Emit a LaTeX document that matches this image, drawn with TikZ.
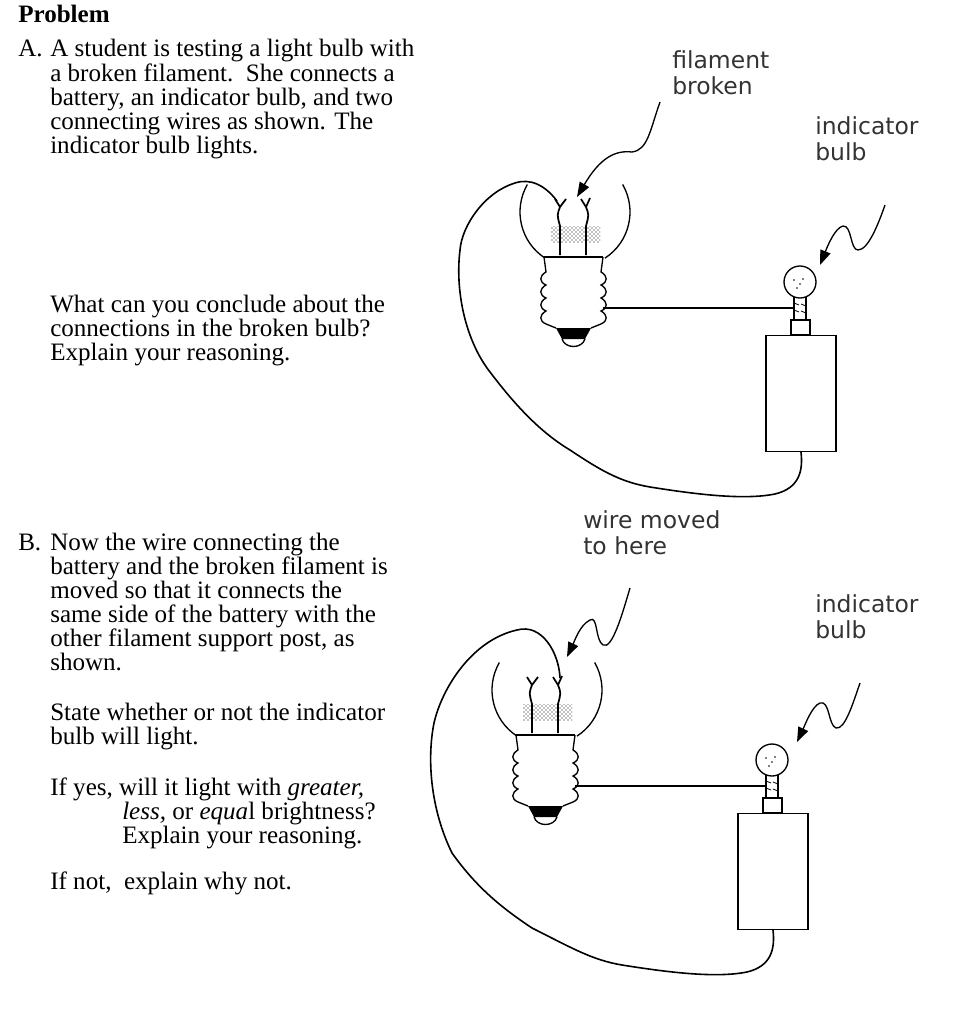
\documentclass[tikz,border=0pt]{standalone}
\usepackage{fontspec}
\setmainfont{Liberation Serif}
\newfontfamily\lbl{DejaVu Sans}
\usetikzlibrary{patterns,arrows.meta}
\tikzset{
 txt/.style={anchor=base west,inner sep=0pt,font=\fontsize{18.8}{19}\selectfont},
 lab/.style={anchor=base west,inner sep=0pt,align=left,font=\lbl\fontsize{17.6}{19}\selectfont,text=black!80},
 wire/.style={line width=1.2pt},
 squig/.style={line width=1pt,-{Triangle[length=11pt,width=8pt]}},
 part/.style={line width=1pt}
}
\newcommand{\brokenbulb}{%
 \draw[part] (575,212) ++(210:55) arc[start angle=210,end angle=123,radius=55];
 \draw[part] (575,212) ++(-30:55) arc[start angle=-30,end angle=57,radius=55];
 \fill[pattern=crosshatch dots,pattern color=black] (551,226) rectangle (600,242);
 \draw[part,line width=1.3pt] (560,255) -- (560,226) .. controls (557,215) .. (560,207) -- (555,199) (560,207) -- (566,199);
 \draw[part,line width=1.3pt] (586,255) -- (586,226) .. controls (589,215) .. (586,207) -- (581,199) (586,207) -- (590,198);
 \draw[part] (544,257) -- (603,257);
 \draw[part] (544,257) -- (546,272) .. controls (539,276) and (539,282) .. (546,285)
   .. controls (539,289) and (539,295) .. (546,298) .. controls (539,302) and (539,308) .. (546,311)
   .. controls (539,315) and (539,321) .. (546,324) -- (556,328);
 \draw[part] (603,257) -- (601,272) .. controls (608,276) and (608,282) .. (601,285)
   .. controls (608,289) and (608,295) .. (601,298) .. controls (608,302) and (608,308) .. (601,311)
   .. controls (608,315) and (608,321) .. (601,324) -- (591,328);
 \fill (556,328) -- (591,328) -- (585,339) -- (562,339) -- cycle;
 \draw[part] (562,339) .. controls (565,349) and (582,349) .. (585,339);
 \coordinate (lpost) at (557,201); \coordinate (rpost) at (588,200);
 \coordinate (bside) at (603,308);
 % indicator bulb and battery
 \draw[part] (800,282) circle[radius=16];
 \fill (794,280) circle[radius=0.9] (800,284) circle[radius=0.9] (803,279) circle[radius=0.9] (797,288) circle[radius=0.9];
 \draw[part] (794,297) -- (794,320) -- (806,320) -- (806,297);
 \draw[line width=0.6pt] (794,303) -- (799,305) (794,310) -- (799,312) (801,304)--(806,306) (801,311)--(806,313);
 \draw[part] (791,320) rectangle (810,335);
 \node[draw,line width=1pt,minimum width=52.5pt,minimum height=87pt,inner sep=0pt] (bat) at (801,393.5) {};
 \coordinate (ind) at (794,308);
 \draw[wire] (bside) -- (ind);
}
\begin{document}
\begin{tikzpicture}[x=0.75pt,y=-0.75pt]
\useasboundingbox (0,0) rectangle (962,1024);
% text
\node[txt,font=\bfseries\fontsize{18.8}{19}\selectfont] (p) at (18,23) {Problem};
\node[txt] (a) at (18,57) {A.};
\node[txt] (a1) at (50,57) {A student is testing a light bulb with};
\node[txt] (a2) at (50,81) {a broken filament.\ \ She connects a};
\node[txt] (a3) at (50,105) {battery, an indicator bulb, and two};
\node[txt] (a4) at (50,129) {connecting wires as shown. The};
\node[txt] (a5) at (50,153) {indicator bulb lights.};
\node[txt] (a6) at (50,312) {What can you conclude about the};
\node[txt] (a7) at (50,336) {connections in the broken bulb?};
\node[txt] (a8) at (50,360) {Explain your reasoning.};
\node[txt] (b) at (18,550) {B.};
\node[txt] (b1) at (50,550) {Now the wire connecting the};
\node[txt] (b2) at (50,574) {battery and the broken filament is};
\node[txt] (b3) at (50,598) {moved so that it connects the};
\node[txt] (b4) at (50,622) {same side of the battery with the};
\node[txt] (b5) at (50,646) {other filament support post, as};
\node[txt] (b6) at (50,670) {shown.};
\node[txt] (b7) at (50,720) {State whether or not the indicator};
\node[txt] (b8) at (50,744) {bulb will light.};
\node[txt] (b9) at (50,795) {If yes, will it light with \textit{greater,}};
\node[txt] (b10) at (122,819) {\textit{less,} or \textit{equa}l brightness?};
\node[txt] (b11) at (122,843) {Explain your reasoning.};
\node[txt] (b12) at (50,889) {If not,\ \ explain why not.};
% diagram A
\begin{scope}
\brokenbulb
\draw[wire] (lpost) .. controls (545,185) and (530,178) .. (515,183)
  .. controls (485,192) and (462,225) .. (460,250)
  .. controls (455,290) and (465,340) .. (490,372)
  .. controls (515,405) and (540,432) .. (570,450)
  .. controls (600,470) and (620,482) .. (650,487)
  .. controls (700,495) and (745,500) .. (775,494)
  .. controls (800,488) and (803,470) .. (bat.south);
\end{scope}
\node[lab] (l1) at (672,94) {filament\\broken};
\draw[squig] (660,102) .. controls (650,130) and (648,150) .. (632,152)
  .. controls (615,150) and (600,158) .. (577,197);
\node[lab] (l2) at (815,160) {indicator\\bulb};
\draw[squig] (885,205) .. controls (878,225) and (868,250) .. (858,250)
  .. controls (850,250) and (852,225) .. (843,226) .. controls (835,228) and (828,245) .. (820,265);
% diagram B
\begin{scope}[shift={(-28,478)}]
\brokenbulb
\draw[wire] (rpost) .. controls (587,175) and (570,145) .. (545,152)
  .. controls (500,162) and (470,210) .. (462,245)
  .. controls (455,280) and (458,330) .. (480,375)
  .. controls (505,410) and (530,430) .. (560,450)
  .. controls (600,470) and (620,482) .. (650,487)
  .. controls (700,495) and (745,500) .. (775,494)
  .. controls (800,488) and (803,470) .. (bat.south);
\end{scope}
\node[lab] (l3) at (583,554) {wire moved\\to here};
\draw[squig] (630,588) .. controls (622,615) and (612,650) .. (603,645)
  .. controls (595,640) and (598,615) .. (590,620) .. controls (580,625) and (575,640) .. (567,657);
\node[lab] (l4) at (815,638) {indicator\\bulb};
\draw[squig] (860,683) .. controls (853,703) and (845,730) .. (836,728)
  .. controls (828,725) and (830,700) .. (820,703) .. controls (812,706) and (805,725) .. (797,742);
\end{tikzpicture}
\end{document}
